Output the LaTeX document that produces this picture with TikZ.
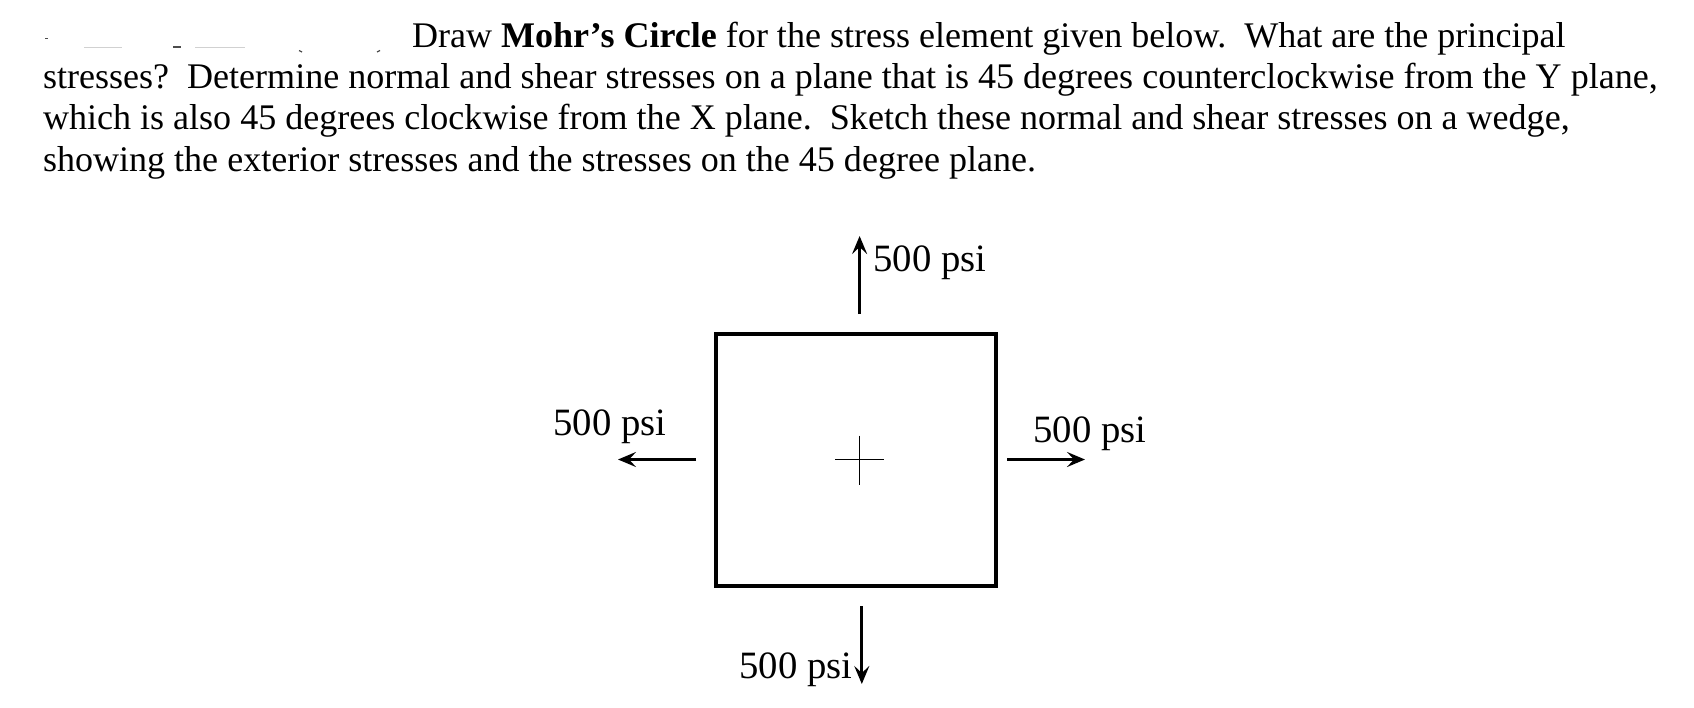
\documentclass[tikz,border=0pt]{standalone}
\usepackage{fontspec}
\setmainfont{Liberation Serif}
\usetikzlibrary{arrows.meta}
\tikzset{
  bodyline/.style={anchor=base west,inner sep=0pt,outer sep=0pt,font=\fontsize{36.05}{40}\selectfont},
  psilabel/.style={anchor=base west,inner sep=0pt,outer sep=0pt,font=\fontsize{38.7}{42}\selectfont},
  elementbox/.style={draw=black,line width=3.7pt,minimum width=280.5pt,minimum height=252pt,inner sep=0pt},
  load/.style={line width=3pt,-{Stealth[length=18pt,width=15pt,inset=7pt]}},
  crosshair/.style={line width=1.1pt},
  speck/.style={line width=1.3pt,black!70},
  fadedspeck/.style={line width=1pt,black!18}
}
\begin{document}
\begin{tikzpicture}[x=1pt,y=-1pt]
\useasboundingbox (0,0) rectangle (1694,707);
\node[bodyline] (l1) at (412,47.2) {Draw \textbf{Mohr’s Circle} for the stress element given below.\ \ What are the principal};
\node[bodyline] (l2) at (43,88.2) {stresses?\ \ Determine normal and shear stresses on a plane that is 45 degrees counterclockwise from the Y plane,};
\node[bodyline] (l3) at (43,129.4) {which is also 45 degrees clockwise from the X plane.\ \ Sketch these normal and shear stresses on a wedge,};
\node[bodyline] (l4) at (43,171.2) {showing the exterior stresses and the stresses on the 45 degree plane.};
\draw[speck] (45,38.3) -- (48,38.3);
\draw[fadedspeck] (84,47) -- (122,47);
\draw[speck] (173,47) -- (181,47);
\draw[fadedspeck] (195,47.5) -- (245,47.5);
\draw[speck] (299,50.5) -- (302,52);
\draw[speck] (377,52) -- (380,50.5);
\node[elementbox] (box) at (856,459.7) {};
\coordinate (cl) at (835,459.5); \coordinate (cr) at (884,459.5);
\coordinate (ct) at (859.6,435.5); \coordinate (cb) at (859.6,484.5);
\draw[crosshair] (cl) -- (cr);
\draw[crosshair] (ct) -- (cb);
\coordinate (ta) at (859.6,314); \coordinate (tb) at (859.6,236);
\coordinate (ba) at (861.8,606); \coordinate (bb) at (861.8,684);
\coordinate (la) at (696,459.5); \coordinate (lb) at (618,459.5);
\coordinate (ra) at (1007,459.5); \coordinate (rb) at (1085,459.5);
\draw[load] (ta) -- (tb);
\draw[load] (ba) -- (bb);
\draw[load] (la) -- (lb);
\draw[load] (ra) -- (rb);
\node[psilabel] (pt) at (873.5,271) {500 psi};
\node[psilabel] (pl) at (553.5,435) {500 psi};
\node[psilabel] (pr) at (1033.5,442) {500 psi};
\node[psilabel] (pb) at (739.5,678) {500 psi};
\end{tikzpicture}
\end{document}
